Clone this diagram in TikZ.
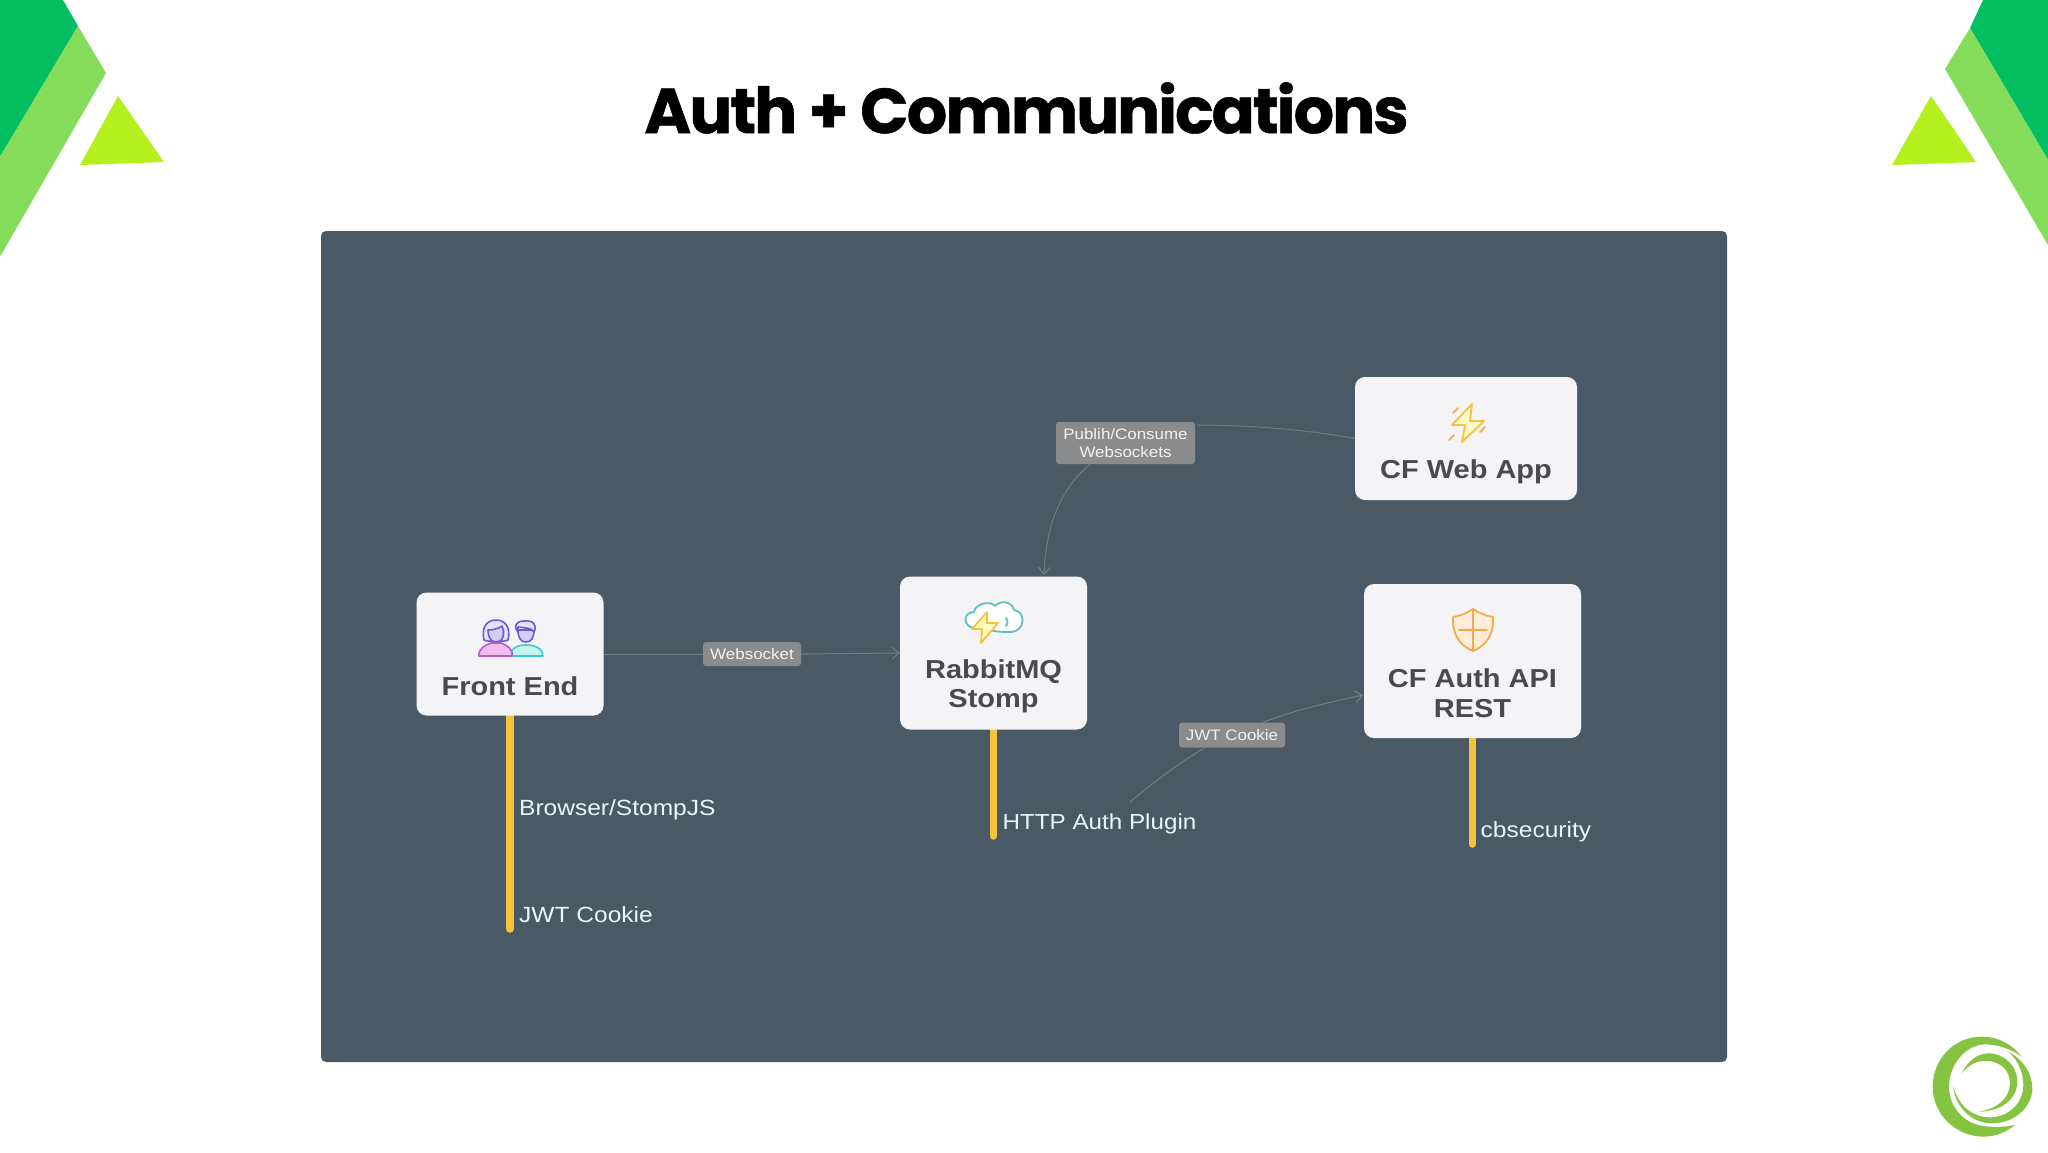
\documentclass[tikz,border=0pt]{standalone}
\usepackage{fontspec}
\setmainfont{Liberation Sans}[FakeStretch=1.115]
\newfontfamily\titlefont{Poppins}[UprightFont=* Bold,FakeBold=0.8,LetterSpace=-3]
\usetikzlibrary{arrows.meta,calc}
\pgfdeclarelayer{bgl}
\pgfdeclarelayer{barl}
\pgfsetlayers{bgl,barl,main}
\definecolor{panel}{HTML}{495A66}
\definecolor{card}{HTML}{F4F4F6}
\definecolor{tag}{HTML}{8A8B8D}
\definecolor{bar}{HTML}{F6C23C}
\definecolor{edge}{HTML}{6F7F8A}
\definecolor{cardtxt}{HTML}{4A4A4D}
\definecolor{gA}{HTML}{04BF62}
\definecolor{gB}{HTML}{84DC5A}
\definecolor{gC}{HTML}{B4F01E}
\definecolor{logo}{HTML}{84C441}
\definecolor{purp}{HTML}{6A5AD8}
\definecolor{lav}{HTML}{D3CEF6}
\definecolor{mag}{HTML}{B85CD6}
\definecolor{pink}{HTML}{F0BCEE}
\definecolor{cyn}{HTML}{3CCBC9}
\definecolor{aqua}{HTML}{C6F2EE}
\definecolor{tealc}{HTML}{5CBFC0}
\definecolor{spark}{HTML}{F5A94A}
\tikzset{x=1pt,y=-1pt,
 card/.style={fill=card,rounded corners=10pt,draw=none},
 cardt/.style={align=center,text=cardtxt,inner sep=0pt,font=\fontsize{26}{29.5}\selectfont\bfseries},
 tagn/.style={fill=tag,rounded corners=3pt,inner sep=0pt,text=white!95!black,align=center,font=\fontsize{15.2}{17.8}\selectfont},
 bar/.style={draw=bar,line width=7.5pt,line cap=round},
 lab/.style={anchor=west,text=white!90!cyan,inner sep=0pt,font=\fontsize{22}{26}\selectfont},
 line/.style={draw=edge,line width=1pt},
 conn/.style={line,-{Straight Barb[length=7pt,width=12pt]}}}
\begin{document}
\begin{tikzpicture}
\useasboundingbox (0,0) rectangle (2048,1152);
\begin{pgfonlayer}{bgl}
\fill[white] (0,0) rectangle (2048,1152);
\fill[panel,rounded corners=5pt] (321,231) rectangle (1727,1062);
\end{pgfonlayer}
% corners left
\fill[gA] (0,0) -- (63,0) -- (78,26) -- (0,157) -- cycle;
\fill[gB] (78,26) -- (106,73) -- (1,255) -- (0,255) -- (0,157) -- cycle;
\fill[gC] (118,96) -- (164,162) -- (80,165) -- cycle;
% corners right
\fill[gA] (2048,0) -- (1983,0) -- (1970,28) -- (2048,160) -- cycle;
\fill[gB] (1970,28) -- (1945,69) -- (2048,245) -- (2048,160) -- cycle;
\fill[gC] (1931,96) -- (1976,162) -- (1892,165) -- cycle;
% title
\node[font=\titlefont\fontsize{63.6}{72}\selectfont,text=black,inner sep=0pt] (title) at (1026.5,108) {Auth + Communications};
% cards
\node[card,minimum width=187pt,minimum height=123pt] (fe) at (510,654) {};
\node[card,minimum width=187pt,minimum height=153pt] (mq) at (993.5,653) {};
\node[card,minimum width=222pt,minimum height=123pt] (web) at (1466,438.5) {};
\node[card,minimum width=217pt,minimum height=154pt] (api) at (1472.5,661) {};
\node[cardt] (fet) at (510,686) {Front End};
\node[cardt] (mqt) at (993.5,686.5) {RabbitMQ\\Stomp};
\node[cardt] (webt) at (1466,471.5) {CF Web App};
\node[cardt] (apit) at (1472.5,693) {CF Auth API\\REST};
% front end icon
\begin{scope}[line width=1.6pt,line join=round]
\draw[draw=cyn,fill=aqua] (512,656) -- (543,656) .. controls (543,649) and (536,645) .. (526,645) .. controls (520,645) and (516,646) .. (512,650) -- cycle;
\draw[draw=purp,fill=lav] (518,630) .. controls (518,638) and (521,642) .. (526,642) .. controls (531,642) and (534,638) .. (534,630) -- cycle;
\draw[draw=purp,fill=lav!60!white] (518,632) .. controls (513,626) and (516,621) .. (524,621) .. controls (532,620) and (538,624) .. (534,632) .. controls (532,628) and (526,628) .. (518,627) -- cycle;
\draw[draw=purp,fill=lav!60!white] (484,640) .. controls (481,627) and (487,620) .. (496,620) .. controls (505,620) and (511,627) .. (508,640) .. controls (504,642) and (488,642) .. (484,640) -- cycle;
\draw[draw=purp,fill=lav] (488,630) .. controls (492,630) and (498,629) .. (502,626) .. controls (505,632) and (504,642) .. (496,642) .. controls (490,642) and (488,636) .. (488,630) -- cycle;
\draw[draw=mag,fill=pink] (479,656) .. controls (478,649) and (485,645) .. (491,643) -- (501,643) .. controls (507,645) and (513,649) .. (512,656) -- cycle;
\end{scope}
% rabbit icon
\begin{scope}[line width=1.8pt,line join=round,line cap=round]
\draw[draw=tealc,fill=white] (975,628) .. controls (963,628) and (962,612) .. (974,612) .. controls (975,604) and (990,600) .. (995,606) .. controls (1000,600) and (1012,601) .. (1014,610) .. controls (1026,611) and (1026,632) .. (1010,632) .. controls (1003,632) and (998,632) .. (990,630);
\draw[draw=tealc] (1006,618) .. controls (1008,620) and (1008,624) .. (1006,626);
\draw[draw=bar,fill=yellow!25!white] (987,612) -- (972,629) -- (982,629) -- (981,643) -- (998,623) -- (987,623) -- cycle;
\end{scope}
% web icon
\begin{scope}[line width=1.8pt,line join=round,line cap=round]
\draw[draw=bar,fill=yellow!22!white] (1472,404) -- (1452,425) -- (1465,425) -- (1462,442) -- (1484,421) -- (1470,421) -- cycle;
\draw[draw=spark] (1453,413) -- (1458,408) (1449,440) -- (1454,435) (1480,432) -- (1485,427);
\end{scope}
% shield icon
\begin{scope}[line width=1.8pt,line join=round,line cap=round]
\draw[draw=spark,fill=orange!15!white] (1473,609) .. controls (1467,613) and (1460,616) .. (1453,617) .. controls (1452,632) and (1458,645) .. (1473,651) .. controls (1488,645) and (1494,632) .. (1493,617) .. controls (1486,616) and (1479,613) .. (1473,609) -- cycle;
\draw[draw=spark] (1473,609) -- (1473,651) (1459,630) -- (1487,630);
\end{scope}
% tags
\node[tagn,minimum width=98pt,minimum height=24pt] (ws) at (752,654) {Websocket};
\node[tagn,minimum width=139pt,minimum height=42pt] (pub) at (1125.5,443) {Publih/Consume\\Websockets};
\node[tagn,minimum width=106pt,minimum height=25pt] (jwt) at (1232,735) {JWT Cookie};
% connectors
\coordinate (hb) at (1130,802);
\coordinate (apin) at (1363,695);
\draw[line] (fe.east) -- (ws.west);
\draw[conn] (ws.east) -- (mq.west);
\draw[line] (web.west) .. controls (1310,430) and (1250,425) .. (1197,425);
\draw[conn] ($(pub.south west)+(34,0)$) .. controls (1060,490) and (1046,525) .. (1044,575);
\draw[line] (hb) .. controls (1150,785) and (1180,762) .. ($(jwt.south)+(-27,0)$);
\draw[conn] ($(jwt.north)+(31,0)$) .. controls (1295,710) and (1330,702) .. (apin);
% bars
\coordinate (a1) at (510,929);
\coordinate (a2) at (993.5,836);
\coordinate (a3) at (1472.5,844);
\begin{pgfonlayer}{barl}
\draw[bar] (fe.south) -- (a1);
\draw[bar] (mq.south) -- (a2);
\draw[bar] (api.south) -- (a3);
\end{pgfonlayer}
% labels
\node[lab] (l1) at (519,810) {Browser/StompJS};
\node[lab] (l2) at (519,915) {JWT Cookie};
\node[lab,font=\fontsize{21.7}{26}\selectfont] (l3) at (1002.5,824) {HTTP Auth Plugin};
\node[lab] (l4) at (1480.5,832) {cbsecurity};
% logo
\begin{scope}[shift={(1900,1010)},x=0.3333pt,y=-0.3333pt]
\fill[logo] (365,140) .. controls (330,95) and (285,80) .. (245,80) .. controls (160,80) and (98,150) .. (98,230) .. controls (98,315) and (170,380) .. (250,380) .. controls (290,380) and (320,365) .. (345,345) .. controls (310,352) and (280,352) .. (250,348) .. controls (190,340) and (147,290) .. (147,230) .. controls (147,165) and (195,105) .. (255,103) .. controls (295,103) and (335,118) .. (365,140) -- cycle;
\fill[logo] (160,230) .. controls (165,290) and (215,340) .. (275,340) .. controls (345,340) and (397,290) .. (397,235) .. controls (397,190) and (370,150) .. (325,125) .. controls (355,150) and (370,190) .. (370,225) .. controls (370,280) and (325,322) .. (270,322) .. controls (215,322) and (175,285) .. (160,230) -- cycle;
\fill[logo] (185,190) .. controls (205,150) and (235,130) .. (265,130) .. controls (315,130) and (352,170) .. (352,215) .. controls (352,265) and (305,305) .. (235,305) .. controls (290,298) and (330,265) .. (330,220) .. controls (330,180) and (300,155) .. (265,153) .. controls (230,150) and (205,165) .. (185,190) -- cycle;
\end{scope}
\end{tikzpicture}
\end{document}
